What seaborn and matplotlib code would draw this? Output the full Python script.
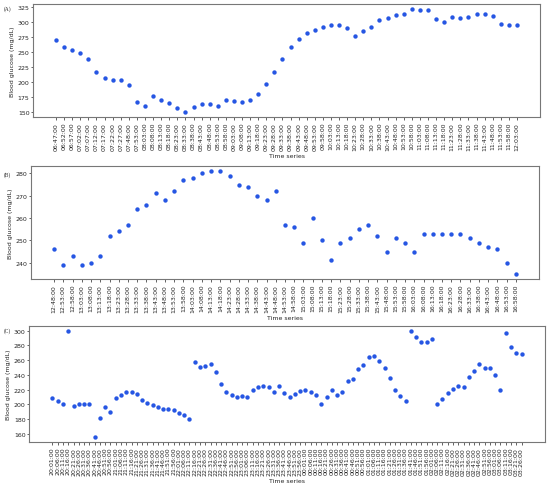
import pandas as pd
import matplotlib
matplotlib.use("Agg")
import matplotlib.pyplot as plt
import seaborn as sns

# --- Painel A ---
times_a = ["06:47:00", "06:52:00", "06:57:00", "07:02:00", "07:07:00", "07:12:00", "07:17:00",
           "07:22:00", "07:27:00", "07:48:00", "07:53:00", "08:03:00", "08:08:00", "08:13:00",
           "08:18:00", "08:23:00", "08:33:00", "08:38:00", "08:43:00", "08:48:00", "08:53:00",
           "08:58:00", "09:03:00", "09:08:00", "09:13:00", "09:18:00", "09:23:00", "09:28:00",
           "09:33:00", "09:38:00", "09:43:00", "09:48:00", "09:53:00", "09:58:00", "10:03:00",
           "10:13:00", "10:18:00", "10:23:00", "10:28:00", "10:33:00", "10:38:00", "10:43:00",
           "10:48:00", "10:53:00", "10:58:00", "11:03:00", "11:08:00", "11:13:00", "11:18:00",
           "11:23:00", "11:28:00", "11:33:00", "11:38:00", "11:43:00", "11:48:00", "11:53:00",
           "11:58:00", "12:03:00"]
glucose_a = [270, 258, 253, 249, 238, 217, 207, 203, 203, 195, 167, 161, 178, 171,
             165, 158, 151, 159, 164, 164, 160, 170, 169, 168, 171, 180, 197, 217,
             239, 259, 272, 281, 286, 291, 295, 294, 290, 277, 285, 291, 303, 306,
             311, 313, 321, 319, 320, 305, 300, 308, 306, 308, 313, 313, 309, 296,
             294, 295]

# --- Painel B ---
times_b = ["12:48:00", "12:53:00", "12:58:00", "13:03:00", "13:08:00", "13:13:00", "13:18:00",
           "13:23:00", "13:28:00", "13:33:00", "13:38:00", "13:43:00", "13:48:00", "13:53:00",
           "13:58:00", "14:03:00", "14:08:00", "14:13:00", "14:18:00", "14:23:00", "14:28:00",
           "14:33:00", "14:38:00", "14:43:00", "14:48:00", "14:53:00", "14:58:00", "15:03:00",
           "15:08:00", "15:13:00", "15:18:00", "15:23:00", "15:28:00", "15:33:00", "15:38:00",
           "15:43:00", "15:48:00", "15:53:00", "15:58:00", "16:03:00", "16:08:00", "16:13:00",
           "16:18:00", "16:23:00", "16:28:00", "16:33:00", "16:38:00", "16:43:00", "16:48:00",
           "16:53:00", "16:58:00"]
glucose_b = [246, 239, 243, 239, 240, 243, 252, 254, 257, 264, 266, 271, 268, 272,
             277, 278, 280, 281, 281, 279, 275, 274, 270, 268, 272, 257, 256, 249,
             260, 250, 241, 249, 251, 255, 257, 252, 245, 251, 249, 245, 253, 253,
             253, 253, 253, 251, 249, 247, 246, 240, 235]

# --- Painel C ---
times_c = ["20:01:00", "20:06:00", "20:11:00", "20:16:00", "20:21:00", "20:26:00", "20:31:00",
           "20:36:00", "20:41:00", "20:46:00", "20:51:00", "20:56:00", "21:01:00", "21:06:00",
           "21:11:00", "21:16:00", "21:21:00", "21:26:00", "21:31:00", "21:36:00", "21:41:00",
           "21:46:00", "21:51:00", "21:56:00", "22:01:00", "22:06:00", "22:11:00", "22:16:00",
           "22:21:00", "22:26:00", "22:31:00", "22:36:00", "22:41:00", "22:46:00", "22:51:00",
           "22:56:00", "23:01:00", "23:06:00", "23:11:00", "23:16:00", "23:21:00", "23:26:00",
           "23:31:00", "23:36:00", "23:41:00", "23:46:00", "23:51:00", "23:56:00", "00:01:00",
           "00:06:00", "00:11:00", "00:16:00", "00:21:00", "00:26:00", "00:31:00", "00:36:00",
           "00:41:00", "00:46:00", "00:51:00", "00:56:00", "01:01:00", "01:06:00", "01:11:00",
           "01:16:00", "01:21:00", "01:26:00", "01:31:00", "01:36:00", "01:41:00", "01:46:00",
           "01:51:00", "01:56:00", "02:01:00", "02:06:00", "02:11:00", "02:16:00", "02:21:00",
           "02:26:00", "02:31:00", "02:36:00", "02:41:00", "02:46:00", "02:51:00", "02:56:00",
           "03:01:00", "03:06:00", "03:11:00", "03:16:00", "03:21:00", "03:26:00"]
glucose_c = [208, 205, 200, 299, 197, 200, 200, 201, 156, 182, 196, 189, 208, 212,
             216, 217, 214, 206, 202, 199, 196, 193, 193, 192, 188, 185, 180, 258,
             251, 252, 254, 244, 228, 216, 212, 210, 211, 210, 219, 224, 225, 223,
             217, 225, 215, 210, 214, 218, 220, 217, 213, 200, 210, 219, 212, 216,
             231, 234, 248, 253, 264, 265, 259, 249, 235, 220, 211, 204, 299, 291,
             285, 284, 289, 200, 207, 215, 221, 225, 224, 237, 245, 254, 249, 249,
             240, 220, 296, 278, 270, 268]

panel_labels = ["(A)", "(B)", "(C)"]

sns.set_theme(style="ticks")
plt.rcParams["font.family"] = ["DejaVu Sans"]

fig = plt.figure(figsize=(5.5, 4.85), dpi=100)

# posições dos eixos em fração da figura
rects = [
    [33 / 550, 1 - 118 / 485, 507 / 550, 113 / 485],
    [31 / 550, 1 - 280 / 485, 508 / 550, 113 / 485],
    [29 / 550, 1 - 443 / 485, 516 / 550, 116 / 485],
]
label_y = [9, 175, 331]
dados = [(times_a, glucose_a), (times_b, glucose_b), (times_c, glucose_c)]

for i, (times, glucose) in enumerate(dados):
    ax = fig.add_axes(rects[i])
    df = pd.DataFrame({"time": times, "glucose": glucose})
    sns.scatterplot(data=df, x="time", y="glucose", ax=ax, color="#2656e3",
                    s=10, linewidth=0, legend=False)
    ax.margins(x=0.05, y=0.05)
    ax.set_xlabel("Time series", fontsize=4.5, labelpad=2)
    ax.set_ylabel("Blood glucose (mg/dL)", fontsize=4.5, labelpad=2)
    ax.tick_params(axis="x", rotation=90, labelsize=4.5, length=2, width=0.5, pad=1.5)
    ax.tick_params(axis="y", labelsize=4.5, length=1.5, width=0.5, pad=1)
    for sp in ax.spines.values():
        sp.set_color("#777777")
        sp.set_linewidth(0.8)
    fig.text(4 / 550, 1 - label_y[i] / 485, panel_labels[i], fontsize=4,
             family="Liberation Serif", va="center", ha="left")

ax_a, ax_b, ax_c = fig.axes
ax_a.set_yticks([150, 175, 200, 225, 250, 275, 300, 325])
ax_b.set_yticks([240, 250, 260, 270, 280])
ax_c.set_yticks([160, 180, 200, 220, 240, 260, 280, 300])

fig.savefig("out.png", dpi=100)
